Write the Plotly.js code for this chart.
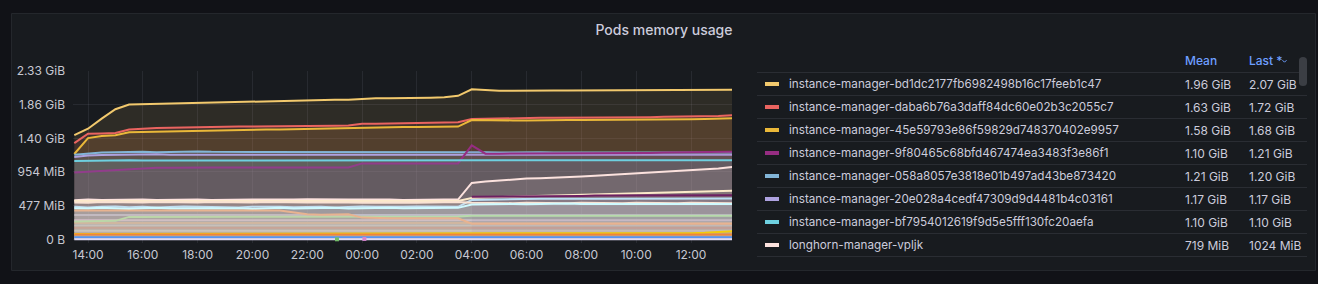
<!DOCTYPE html>
<html><head><meta charset="utf-8">
<script src="https://cdn.plot.ly/plotly-3.0.1.min.js"></script>
<style>html,body{margin:0;padding:0;background:#111217;overflow:hidden}#chart{width:1318px;height:284px}</style>
</head><body><div id="chart"></div>
<script>
// ---------- DATA ----------
const times = [
 "2024-03-11 13:30","2024-03-11 14:00","2024-03-11 14:30","2024-03-11 15:00","2024-03-11 15:30","2024-03-11 16:00","2024-03-11 16:30",
 "2024-03-11 17:00","2024-03-11 17:30","2024-03-11 18:00","2024-03-11 18:30","2024-03-11 19:00","2024-03-11 19:30","2024-03-11 20:00",
 "2024-03-11 20:30","2024-03-11 21:00","2024-03-11 21:30","2024-03-11 22:00","2024-03-11 22:30","2024-03-11 23:00","2024-03-11 23:30",
 "2024-03-12 00:00","2024-03-12 00:30","2024-03-12 01:00","2024-03-12 01:30","2024-03-12 02:00","2024-03-12 02:30","2024-03-12 03:00",
 "2024-03-12 03:30","2024-03-12 04:00","2024-03-12 04:30","2024-03-12 05:00","2024-03-12 05:30","2024-03-12 06:00","2024-03-12 06:30",
 "2024-03-12 07:00","2024-03-12 07:30","2024-03-12 08:00","2024-03-12 08:30","2024-03-12 09:00","2024-03-12 09:30","2024-03-12 10:00",
 "2024-03-12 10:30","2024-03-12 11:00","2024-03-12 11:30","2024-03-12 12:00","2024-03-12 12:30","2024-03-12 13:00","2024-03-12 13:30"
];

// legend (visible rows), values in GiB
const legendNames = [
 "instance-manager-bd1dc2177fb6982498b16c17feeb1c47",
 "instance-manager-daba6b76a3daff84dc60e02b3c2055c7",
 "instance-manager-45e59793e86f59829d748370402e9957",
 "instance-manager-9f80465c68bfd467474ea3483f3e86f1",
 "instance-manager-058a8057e3818e01b497ad43be873420",
 "instance-manager-20e028a4cedf47309d9d4481b4c03161",
 "instance-manager-bf7954012619f9d5e5fff130fc20aefa",
 "longhorn-manager-vpljk"
];
const legendMean = ["1.96 GiB","1.63 GiB","1.58 GiB","1.10 GiB","1.21 GiB","1.17 GiB","1.10 GiB","719 MiB"];
const legendLast = ["2.07 GiB","1.72 GiB","1.68 GiB","1.21 GiB","1.20 GiB","1.17 GiB","1.10 GiB","1024 MiB"];
const legendColors = ["#F2C96D","#EA6460","#EAB839","#962D82","#82B5D8","#AEA2E0","#6ED0E0","#FCE2DE"];

const memBd1dc = [
 1.44,1.53,1.67,1.80,1.865,1.87,1.875,
 1.88,1.885,1.89,1.895,1.895,1.90,1.905,
 1.91,1.91,1.915,1.925,1.925,1.93,1.93,
 1.945,1.95,1.95,1.95,1.955,1.96,1.965,
 1.985,2.075,2.06,2.055,2.055,2.06,2.06,
 2.06,2.06,2.06,2.065,2.065,2.06,2.065,
 2.065,2.07,2.065,2.065,2.065,2.065,2.07];
const memDaba = [
 1.33,1.46,1.465,1.47,1.52,1.535,1.54,
 1.545,1.55,1.55,1.555,1.555,1.56,1.56,
 1.56,1.565,1.565,1.565,1.57,1.57,1.575,
 1.60,1.60,1.605,1.61,1.61,1.615,1.62,
 1.62,1.665,1.67,1.67,1.675,1.675,1.68,
 1.68,1.68,1.685,1.685,1.685,1.685,1.69,
 1.69,1.695,1.695,1.695,1.70,1.705,1.715];
const mem45e5 = [
 1.18,1.40,1.43,1.44,1.48,1.485,1.49,
 1.495,1.50,1.505,1.505,1.51,1.51,1.515,
 1.52,1.52,1.525,1.53,1.53,1.535,1.535,
 1.545,1.55,1.55,1.555,1.555,1.56,1.56,
 1.56,1.65,1.645,1.645,1.645,1.645,1.65,
 1.65,1.65,1.65,1.65,1.65,1.655,1.655,
 1.655,1.66,1.66,1.66,1.665,1.67,1.675];
const mem9f80 = [
 0.925,0.935,0.95,0.965,0.975,0.98,0.99,
 0.99,0.995,0.995,0.995,0.995,0.995,0.995,
 0.995,0.995,0.995,0.995,0.995,0.995,0.995,
 1.05,1.05,1.05,1.05,1.05,1.05,1.05,
 1.05,1.30,1.185,1.185,1.185,1.19,1.19,
 1.19,1.19,1.19,1.19,1.195,1.195,1.195,
 1.195,1.20,1.20,1.20,1.20,1.205,1.21];
const mem058a = [
 1.17,1.19,1.20,1.205,1.21,1.21,1.205,
 1.21,1.21,1.215,1.21,1.21,1.215,1.21,
 1.21,1.215,1.21,1.21,1.215,1.21,1.21,
 1.215,1.21,1.215,1.21,1.21,1.215,1.21,
 1.21,1.205,1.205,1.20,1.205,1.20,1.205,
 1.20,1.20,1.205,1.20,1.20,1.205,1.20,
 1.20,1.205,1.20,1.20,1.205,1.20,1.20];
const mem20e0 = [
 1.14,1.16,1.165,1.17,1.17,1.17,1.175,
 1.17,1.17,1.17,1.175,1.17,1.17,1.17,
 1.175,1.17,1.17,1.17,1.175,1.17,1.17,
 1.17,1.175,1.17,1.17,1.17,1.175,1.17,
 1.17,1.17,1.17,1.17,1.175,1.17,1.17,
 1.17,1.17,1.175,1.17,1.17,1.17,1.17,
 1.175,1.17,1.17,1.17,1.17,1.17,1.17];
const memBf79 = [
 1.085,1.09,1.09,1.09,1.095,1.09,1.09,
 1.09,1.095,1.09,1.09,1.09,1.09,1.09,
 1.095,1.09,1.09,1.09,1.09,1.09,1.095,
 1.09,1.09,1.09,1.09,1.09,1.095,1.09,
 1.09,1.09,1.09,1.09,1.095,1.09,1.09,
 1.09,1.09,1.09,1.095,1.09,1.09,1.09,
 1.09,1.095,1.09,1.09,1.09,1.09,1.095];
const memLonghornVpljk = [
 0.54,0.55,0.545,0.55,0.555,0.55,0.545,
 0.55,0.555,0.55,0.545,0.55,0.555,0.55,
 0.55,0.545,0.55,0.555,0.55,0.545,0.55,
 0.55,0.555,0.55,0.545,0.55,0.555,0.55,
 0.55,0.78,0.80,0.815,0.83,0.84,0.845,
 0.85,0.86,0.87,0.88,0.89,0.90,0.91,
 0.92,0.93,0.94,0.955,0.965,0.98,1.00];

// other pods (further down the scrollable legend)
const memOtherCream = [
 0.53,0.535,0.53,0.525,0.535,0.53,0.53,
 0.535,0.53,0.525,0.53,0.535,0.53,0.53,
 0.525,0.53,0.535,0.53,0.53,0.535,0.525,
 0.53,0.53,0.535,0.53,0.525,0.53,0.535,
 0.53,0.57,0.58,0.585,0.59,0.595,0.60,
 0.61,0.615,0.625,0.63,0.635,0.635,0.64,
 0.645,0.65,0.65,0.655,0.66,0.665,0.67];
const memOtherPurple = [
 null,null,null,null,null,null,null,
 null,null,null,null,null,null,null,
 null,null,null,null,null,null,null,
 null,null,null,null,null,null,null,
 null,0.59,0.59,0.595,0.59,0.595,0.59,
 0.595,0.59,0.60,0.605,0.605,0.61,0.605,
 0.61,0.605,0.61,0.61,0.61,0.615,0.61];
const memOtherSky = [
 0.45,0.44,0.45,0.455,0.445,0.45,0.44,
 0.45,0.455,0.45,0.445,0.45,0.44,0.45,
 0.455,0.45,0.445,0.45,0.45,0.44,0.45,
 0.455,0.45,0.445,0.45,0.455,0.45,0.445,
 0.45,0.545,0.55,0.555,0.555,0.56,0.56,
 0.56,0.555,0.56,0.56,0.56,0.565,0.56,
 0.56,0.565,0.56,0.56,0.565,0.56,0.565];
const memOtherPeach = [
 0.51,0.505,0.515,0.51,0.505,0.51,0.515,
 0.51,0.505,0.51,0.515,0.51,0.505,0.51,
 0.515,0.51,0.505,0.51,0.51,0.515,0.51,
 0.505,0.51,0.515,0.51,0.505,0.51,0.51,
 0.515,0.505,0.50,0.505,0.50,0.505,0.50,
 0.505,0.50,0.505,0.50,0.505,0.50,0.505,
 0.50,0.505,0.50,0.505,0.50,0.505,0.50];
const memOtherIce = [
 0.43,0.425,0.435,0.43,0.42,0.43,0.435,
 0.425,0.43,0.435,0.43,0.425,0.43,0.42,
 0.43,0.435,0.425,0.43,0.43,0.435,0.425,
 0.43,0.425,0.435,0.43,0.43,0.425,0.43,
 0.435,0.48,0.485,0.49,0.49,0.485,0.49,
 0.49,0.495,0.49,0.49,0.485,0.49,0.495,
 0.49,0.49,0.495,0.49,0.49,0.495,0.49];
const memOtherSlate = [
 0.335,0.34,0.335,0.335,0.33,0.335,0.335,
 0.34,0.335,0.335,0.33,0.335,0.335,0.34,
 0.335,0.335,0.33,0.335,0.335,0.34,0.335,
 0.335,0.33,0.335,0.335,0.34,0.335,0.335,
 0.33,0.335,0.335,0.34,0.335,0.335,0.33,
 0.335,0.335,0.34,0.335,0.335,0.33,0.335,
 0.335,0.34,0.335,0.335,0.33,0.335,0.335];
const memOtherSage = [
 0.245,0.245,0.25,0.255,0.31,0.31,0.31,
 0.31,0.315,0.31,0.31,0.31,0.315,0.31,
 0.31,0.31,0.315,0.31,0.31,0.31,0.315,
 0.31,0.31,0.31,0.315,0.31,0.31,0.31,
 0.315,0.325,0.325,0.325,0.325,0.325,0.325,
 0.325,0.325,0.325,0.33,0.325,0.325,0.325,
 0.325,0.325,0.325,0.325,0.325,0.325,0.325];
const memOtherOrchid = [
 0.265,0.265,0.27,0.265,0.265,0.265,0.27,
 0.265,0.265,0.265,0.27,0.265,0.265,0.265,
 0.27,0.265,0.265,0.265,0.27,0.265,0.265,
 0.265,0.27,0.265,0.265,0.265,0.27,0.265,
 0.265,0.265,0.27,0.265,0.265,0.265,0.27,
 0.265,0.265,0.265,0.27,0.265,0.265,0.265,
 0.27,0.265,0.265,0.265,0.27,0.265,0.265];
const memOtherRust = [
 0.225,0.225,0.23,0.225,0.225,0.225,0.23,
 0.225,0.225,0.225,0.23,0.225,0.225,0.225,
 0.23,0.225,0.225,0.225,0.23,0.225,0.225,
 0.225,0.23,0.225,0.225,0.225,0.23,0.225,
 0.225,0.225,0.23,0.225,0.225,0.225,0.23,
 0.225,0.225,0.225,0.23,0.225,0.225,0.225,
 0.23,0.225,0.225,0.225,0.23,0.225,0.225];
const memOtherTan = [
 0.40,0.405,0.40,0.40,0.405,0.40,0.40,
 0.405,0.40,0.40,0.405,0.40,0.40,0.405,
 0.40,0.40,0.37,0.345,0.34,0.34,0.345,
 0.30,0.29,0.29,0.29,0.295,0.29,0.29,
 0.29,0.215,0.215,0.215,0.22,0.215,0.215,
 0.215,0.215,0.22,0.215,0.215,0.215,0.22,
 0.215,0.215,0.215,0.22,0.215,0.215,0.215];
const memOtherGrey = [
 0.19,0.19,0.195,0.19,0.19,0.19,0.195,
 0.19,0.19,0.19,0.195,0.19,0.19,0.19,
 0.195,0.19,0.19,0.19,0.195,0.19,0.19,
 0.19,0.195,0.19,0.19,0.19,0.195,0.19,
 0.19,0.19,0.195,0.19,0.19,0.19,0.195,
 0.19,0.19,0.19,0.195,0.19,0.19,0.19,
 0.195,0.19,0.19,0.19,0.195,0.19,0.19];
const memOtherDarkRed = [
 0.16,0.16,0.16,0.165,0.16,0.16,0.16,
 0.16,0.165,0.16,0.16,0.16,0.16,0.165,
 0.16,0.16,0.16,0.16,0.165,0.16,0.16,
 0.16,0.16,0.165,0.16,0.16,0.16,0.16,
 0.165,0.16,0.16,0.16,0.16,0.165,0.16,
 0.16,0.16,0.16,0.165,0.16,0.16,0.16,
 0.16,0.165,0.16,0.16,0.16,0.16,0.16];
const memOtherStone = [
 0.12,0.12,0.125,0.12,0.12,0.12,0.125,
 0.12,0.12,0.12,0.125,0.12,0.12,0.12,
 0.125,0.12,0.12,0.12,0.125,0.12,0.12,
 0.12,0.125,0.12,0.12,0.12,0.125,0.12,
 0.12,0.12,0.125,0.12,0.12,0.12,0.125,
 0.12,0.12,0.12,0.125,0.12,0.12,0.12,
 0.125,0.12,0.12,0.12,0.125,0.12,0.12];
const memOtherYellow = [
 0.075,0.075,0.075,0.075,0.075,0.075,0.075,
 0.075,0.075,0.075,0.075,0.075,0.075,0.075,
 0.075,0.075,0.075,0.075,0.075,0.075,0.075,
 0.085,0.085,0.085,0.085,0.085,0.085,0.085,
 0.085,0.085,0.085,0.085,0.085,0.085,0.085,
 0.085,0.085,0.085,0.085,0.085,0.085,0.085,
 0.085,0.085,0.085,0.085,0.09,0.105,0.11];
const memOtherOrange = [
 0.065,0.065,0.065,0.065,0.065,0.065,0.065,
 0.065,0.065,0.065,0.065,0.065,0.065,0.065,
 0.065,0.065,0.065,0.065,0.065,0.065,0.065,
 0.065,0.065,0.065,0.065,0.065,0.065,0.065,
 0.065,0.065,0.065,0.065,0.065,0.065,0.065,
 0.065,0.065,0.065,0.065,0.065,0.065,0.065,
 0.065,0.065,0.065,0.065,0.065,0.065,0.065];
const memOtherBlue = [
 0.03,0.03,0.03,0.03,0.03,0.03,0.03,
 0.03,0.03,0.03,0.03,0.03,0.03,0.03,
 0.03,0.03,0.03,0.03,0.03,0.03,0.03,
 0.03,0.03,0.03,0.03,0.03,0.03,0.03,
 0.03,0.03,0.03,0.03,0.03,0.03,0.03,
 0.03,0.03,0.03,0.03,0.03,0.03,0.03,
 0.03,0.03,0.03,0.03,0.03,0.03,0.03];
const memOtherLavender = [
 0.0,0.0,0.0,0.0,0.0,0.0,0.0,
 0.0,0.0,0.0,0.0,0.0,0.0,0.0,
 0.0,0.0,0.0,0.0,0.0,0.0,0.0,
 0.0,0.0,0.0,0.0,0.0,0.0,0.0,
 0.0,0.0,0.0,0.0,0.0,0.0,0.0,
 0.0,0.0,0.0,0.0,0.0,0.0,0.0,
 0.0,0.0,0.0,0.0,0.0,0.0,0.0];
// short-lived pods (single samples)
const blipTimes = ["2024-03-11 23:05","2024-03-12 00:05"];
const blipValues = [0.0, 0.005];
const blipColors = ["#73BF69","#D683CE"];

// y-axis ticks (bytes 0..2.5e9 shown in GiB)
const yTickBytes = [0, 5e8, 1e9, 1.5e9, 2e9, 2.5e9];
const yTickText = ["0 B","477 MiB","954 MiB","1.40 GiB","1.86 GiB","2.33 GiB"];

// ---------- BUILD ----------
const W=1318,H=284,ML=73,MR=586,MT=71,MB=41;
const PW=W-ML-MR, PH=H-MT-MB;
const px = x => (x-ML)/PW;
const py = y => (H-MB-y)/PH;
function rgba(hex,a){const n=parseInt(hex.slice(1),16);return `rgba(${n>>16&255},${n>>8&255},${n&255},${a})`;}

// drawing order (first drawn = underneath)
const series = [
 {name:"other-slate", y:memOtherSlate, c:"#9AA0C0", a:0.12},
 {name:"other-orchid", y:memOtherOrchid, c:"#E5A8E2", a:0.12},
 {name:"other-rust", y:memOtherRust, c:"#E0752D", a:0.12},
 {name:"other-grey", y:memOtherGrey, c:"#B8B0B4", a:0.12},
 {name:"other-darkred", y:memOtherDarkRed, c:"#BF1B00", a:0.12},
 {name:"other-stone", y:memOtherStone, c:"#C9C2BE", a:0.12},
 {name:legendNames[0], y:memBd1dc, c:legendColors[0], a:0.1},
 {name:legendNames[1], y:memDaba, c:legendColors[1], a:0.1},
 {name:legendNames[2], y:mem45e5, c:legendColors[2], a:0.1},
 {name:legendNames[4], y:mem058a, c:legendColors[4], a:0.1},
 {name:legendNames[5], y:mem20e0, c:legendColors[5], a:0.1},
 {name:legendNames[3], y:mem9f80, c:legendColors[3], a:0.1},
 {name:legendNames[6], y:memBf79, c:legendColors[6], a:0.1},
 {name:legendNames[7], y:memLonghornVpljk, c:legendColors[7], a:0.1},
 {name:"other-cream", y:memOtherCream, c:"#FCEACA", a:0.12},
 {name:"other-purple", y:memOtherPurple, c:"#6D1F62", a:0.1},
 {name:"other-sky", y:memOtherSky, c:"#BADFF4", a:0.12},
 {name:"other-peach", y:memOtherPeach, c:"#F9E2D2", a:0.12},
 {name:"other-ice", y:memOtherIce, c:"#CFFAFF", a:0.12},
 {name:"other-sage", y:memOtherSage, c:"#B7DBAB", a:0.12},
 {name:"other-tan", y:memOtherTan, c:"#E8B390", a:0.12},
 {name:"other-yellow", y:memOtherYellow, c:"#F2CC0C", a:0.12},
 {name:"other-orange", y:memOtherOrange, c:"#EF843C", a:0.12},
 {name:"other-blue", y:memOtherBlue, c:"#5794F2", a:0.12},
 {name:"other-lavender", y:memOtherLavender, c:"#DEDAF7", a:0.12}
];

const traces = series.map(s => ({
  type:'scatter', mode:'lines', x:times, y:s.y, name:s.name,
  line:{color:s.c, width:2}, fill:'tozeroy', fillcolor:rgba(s.c,s.a),
  connectgaps:false, hoverinfo:'skip'
}));
blipTimes.forEach((t,i)=>traces.push({type:'scatter',mode:'markers',x:[t],y:[blipValues[i]],
  marker:{color:blipColors[i],size:4,symbol:'square'},hoverinfo:'skip'}));

const GiB = Math.pow(2,30);
const tickFont = {family:'Inter, "Open Sans", sans-serif', size:12, color:'#c7c8d2'};
const gridCol = 'rgba(204,204,220,0.09)';

const shapes = [];
const annotations = [];
// panel
shapes.push({type:'rect', xref:'paper', yref:'paper', x0:px(11.5), x1:px(1315.5), y0:py(270.5), y1:py(13.5),
  fillcolor:'#181b1f', line:{color:'#24272c', width:1}, layer:'below'});
// legend header
const hdrY = 60.5;
const hdrFont = {family:'Inter, sans-serif',size:12,color:'#6e9fff',weight:500};
annotations.push({xref:'paper',yref:'paper',x:px(1183),y:py(hdrY),xanchor:'left',yanchor:'middle',showarrow:false,text:'Mean', font:hdrFont});
annotations.push({xref:'paper',yref:'paper',x:px(1247),y:py(hdrY),xanchor:'left',yanchor:'middle',showarrow:false,text:'Last *', font:hdrFont});
shapes.push({type:'path', xref:'paper', yref:'paper',
  path:`M ${px(1282.5)} ${py(60.2)} L ${px(1284.5)} ${py(62.2)} L ${px(1286.5)} ${py(60.2)}`,
  line:{color:'#6e9fff', width:1}});
// rows
for (let k=0;k<=legendNames.length;k++){
  const ly = 72.5 + 23*k;
  shapes.push({type:'line', xref:'paper', yref:'paper', x0:px(757), x1:px(1307), y0:py(ly), y1:py(ly),
    line:{color:'#2a2d33', width:1}});
}
legendNames.forEach((n,k)=>{
  const cy = 84 + 23*k;
  shapes.push({type:'rect', xref:'paper', yref:'paper', x0:px(765), x1:px(779), y0:py(cy+2), y1:py(cy-2),
    fillcolor:legendColors[k], line:{width:0}});
  const fn = {family:'Inter, sans-serif', size:11.7, color:'#ccccdc'};
  const f = {family:'Inter, sans-serif', size:12, color:'#ccccdc'};
  annotations.push({xref:'paper',yref:'paper',x:px(787),y:py(cy),xanchor:'left',yanchor:'middle',showarrow:false,text:n,font:fn});
  annotations.push({xref:'paper',yref:'paper',x:px(1183),y:py(cy),xanchor:'left',yanchor:'middle',showarrow:false,text:legendMean[k],font:f});
  annotations.push({xref:'paper',yref:'paper',x:px(1247),y:py(cy),xanchor:'left',yanchor:'middle',showarrow:false,text:legendLast[k],font:f});
});
// scrollbar
shapes.push({type:'path', xref:'paper', yref:'paper', fillcolor:'#3b3e44', line:{width:0},
  path:`M ${px(1299)} ${py(60.5)} Q ${px(1299)} ${py(57)} ${px(1303)} ${py(57)} Q ${px(1307)} ${py(57)} ${px(1307)} ${py(60.5)} L ${px(1307)} ${py(82.5)} Q ${px(1307)} ${py(86)} ${px(1303)} ${py(86)} Q ${px(1299)} ${py(86)} ${px(1299)} ${py(82.5)} Z`});

const layout = {
  width:W, height:H,
  margin:{l:ML, r:MR, t:MT, b:MB, pad:0},
  paper_bgcolor:'#111217', plot_bgcolor:'rgba(0,0,0,0)',
  showlegend:false, hovermode:false,
  font:{family:'Inter, "Open Sans", sans-serif', size:12, color:'#ccccdc'},
  title:{text:'Pods memory usage', font:{family:'Inter, sans-serif', size:14, color:'#ccccdc', weight:500},
    x:664/W, xref:'container', xanchor:'center', y:1-30/H, yref:'container', yanchor:'middle'},
  xaxis:{type:'date', range:['2024-03-11 13:27:10','2024-03-12 13:29:42'], tickformat:'%H:%M',
    tick0:'2024-03-11 14:00', dtick:7200000, showgrid:true, gridcolor:gridCol, gridwidth:1,
    zeroline:false, showline:false, ticks:'', tickfont:tickFont, ticklabelstandoff:3, fixedrange:true},
  yaxis:{range:[-0.0512, 2.3285], tickvals:yTickBytes.map(b=>b/GiB), ticktext:yTickText,
    showgrid:true, gridcolor:gridCol, gridwidth:1, zeroline:false, showline:false, ticks:'',
    tickfont:tickFont, ticklabelstandoff:7, fixedrange:true},
  shapes:shapes, annotations:annotations
};
Plotly.newPlot('chart', traces, layout, {staticPlot:true, displayModeBar:false});
</script></body></html>
